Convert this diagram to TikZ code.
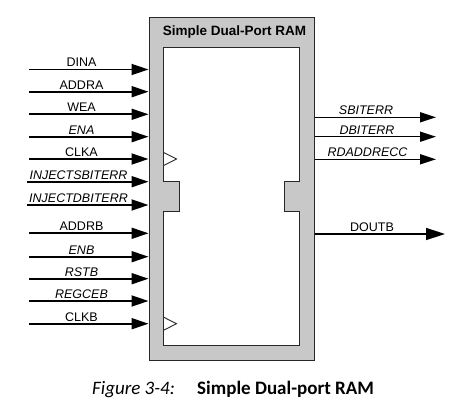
\documentclass[tikz,border=0pt]{standalone}
\usepackage{fontspec}
\setmainfont{Liberation Sans}
\newfontfamily\capfont{Carlito}
\usetikzlibrary{arrows.meta}
\definecolor{ramgray}{RGB}{200,200,200}
\definecolor{ramline}{RGB}{40,40,40}
\begin{document}
\begin{tikzpicture}[x=1pt,y=-1pt,
    insig/.style={line width=1.8pt,-{Triangle[length=17pt,width=11pt]}},
    outsig/.style={line width=1.5pt,-{Triangle[length=16pt,width=10pt]}},
    lbl/.style={anchor=base,inner sep=0pt,font=\fontsize{12.5}{14}\selectfont},
    ilbl/.style={lbl,font=\fontsize{12.5}{14}\selectfont\itshape},
    clk/.style={line width=0.9pt,ramline}]
      \useasboundingbox (0,0) rectangle (474,403);
      % the RAM block
      \node[draw=ramline,line width=1pt,fill=ramgray,minimum width=165pt,
        minimum height=343.5pt,inner sep=0pt] (ram) at (231.5,189.25) {};
      \draw[ramline,line width=1pt,fill=white]
        (163.7,47.7) -- (299.3,47.7) -- (299.3,182) -- (284,182) -- (284,212)
        -- (299.3,212) -- (299.3,345.7) -- (163.7,345.7) -- (163.7,212)
        -- (179,212) -- (179,182) -- (163.7,182) -- cycle;
      \draw[clk] (163.7,152.5) -- (176.5,159) -- (163.7,165.5);
      \draw[clk] (163.7,317.2) -- (176.5,323.7) -- (163.7,330.2);
      \node[anchor=base,inner sep=0pt,font=\fontsize{13.5}{15}\selectfont\bfseries]
        (title) at (234.4,35.5) {Simple Dual-Port RAM};
      % port A inputs
      \coordinate (dina) at (29,69.5);
      \coordinate (addra) at (29,91.7);
      \coordinate (wea) at (29,114.3);
      \coordinate (ena) at (29,136.7);
      \coordinate (clka) at (29,159);
      \coordinate (injs) at (27,181.7);
      \coordinate (injd) at (27,205);
      % port B inputs
      \coordinate (addrb) at (29,233.3);
      \coordinate (enb) at (29,256.7);
      \coordinate (rstb) at (29,278.7);
      \coordinate (regceb) at (29,301);
      \coordinate (clkb) at (29,323.7);
      % outputs
      \coordinate (sbiterr) at (436,117.3);
      \coordinate (dbiterr) at (436,136.7);
      \coordinate (rdaddrecc) at (436,159.3);
      \coordinate (doutb) at (445,234);
      \draw[insig] (dina) -- (dina -| ram.west);
      \draw[insig] (addra) -- (addra -| ram.west);
      \draw[insig] (wea) -- (wea -| ram.west);
      \draw[insig] (ena) -- (ena -| ram.west);
      \draw[insig] (clka) -- (clka -| ram.west);
      \draw[insig] (injs) -- (injs -| ram.west);
      \draw[insig] (injd) -- (injd -| ram.west);
      \draw[insig] (addrb) -- (addrb -| ram.west);
      \draw[insig] (enb) -- (enb -| ram.west);
      \draw[insig] (rstb) -- (rstb -| ram.west);
      \draw[insig] (regceb) -- (regceb -| ram.west);
      \draw[insig] (clkb) -- (clkb -| ram.west);
      \draw[outsig] (sbiterr -| ram.east) -- (sbiterr);
      \draw[outsig] (dbiterr -| ram.east) -- (dbiterr);
      \draw[outsig] (rdaddrecc -| ram.east) -- (rdaddrecc);
      \draw[outsig,-{Triangle[length=19pt,width=12pt]}] (doutb -| ram.east) -- (doutb);
      \node[lbl] (dinalbl) at (81.5,67) {DINA};
      \node[lbl] (addralbl) at (81.5,89.2) {ADDRA};
      \node[lbl] (wealbl) at (81.5,111.8) {WEA};
      \node[ilbl] (enalbl) at (81.5,134.2) {ENA};
      \node[lbl] (clkalbl) at (81.5,156.5) {CLKA};
      \node[ilbl] (injslbl) at (78.5,179.2) {INJECTSBITERR};
      \node[ilbl] (injdlbl) at (78.5,202.5) {INJECTDBITERR};
      \node[lbl] (addrblbl) at (81.5,230.8) {ADDRB};
      \node[ilbl] (enblbl) at (81.5,254.2) {ENB};
      \node[ilbl] (rstblbl) at (81.5,276.2) {RSTB};
      \node[ilbl] (regceblbl) at (81.5,298.5) {REGCEB};
      \node[lbl] (clkblbl) at (81.5,321.2) {CLKB};
      \node[ilbl] (sbiterrlbl) at (366,114.8) {SBITERR};
      \node[ilbl] (dbiterrlbl) at (367,134.2) {DBITERR};
      \node[ilbl] (rdaddrecclbl) at (367.5,156.8) {RDADDRECC};
      \node[lbl] (doutblbl) at (372,231.5) {DOUTB};
      % caption
      \node[anchor=base west,inner sep=0pt,font=\capfont\fontsize{19}{22}\selectfont\itshape]
        (capnum) at (92,394) {Figure 3-4:};
      \node[anchor=base west,inner sep=0pt,font=\capfont\fontsize{19}{22}\selectfont\bfseries]
        (captext) at (197,394) {Simple Dual-port RAM};
\end{tikzpicture}
\end{document}
